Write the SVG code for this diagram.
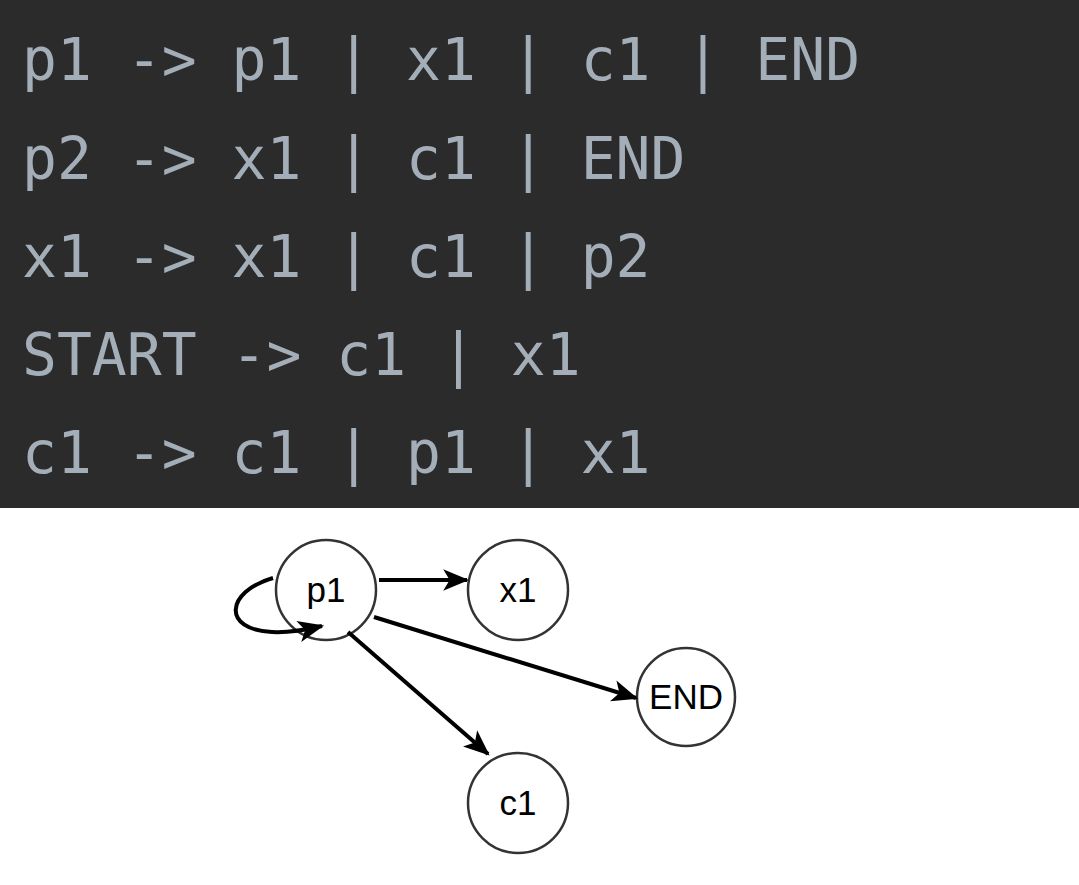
<svg xmlns="http://www.w3.org/2000/svg" width="1079" height="885" viewBox="0 0 1079 885">
<style>
.code{font-family:"DejaVu Sans Mono",monospace;font-size:58px;fill:#a4aeb8}
.n circle{fill:#fff;stroke:#333;stroke-width:2.5}
.n text{font-family:"Liberation Sans",Arial,sans-serif;font-size:35px;fill:#000;text-anchor:middle}
.e path{fill:none;stroke:#000;stroke-width:4}
</style>
<defs>
<marker id="ah" viewBox="0 0 12 10" refX="11" refY="5" markerWidth="26" markerHeight="22" orient="auto" markerUnits="userSpaceOnUse">
<path d="M0,0 L12,5 L0,10 L3,5 Z" fill="#000"/>
</marker>
</defs>
<rect x="0" y="0" width="1079" height="508" fill="#2b2b2b"/>
<g id="code">
<text class="code" x="22" y="80">p1 -&gt; p1 | x1 | c1 | END</text>
<text class="code" x="22" y="179">p2 -&gt; x1 | c1 | END</text>
<text class="code" x="22" y="277">x1 -&gt; x1 | c1 | p2</text>
<text class="code" x="22" y="375">START -&gt; c1 | x1</text>
<text class="code" x="22" y="473">c1 -&gt; c1 | p1 | x1</text>
</g>
<g id="p1" class="n"><circle cx="326" cy="590" r="50"/><text x="326" y="602">p1</text></g>
<g id="x1" class="n"><circle cx="518" cy="590" r="50"/><text x="518" y="602">x1</text></g>
<g id="END" class="n"><circle cx="686" cy="697" r="49"/><text x="686" y="709">END</text></g>
<g id="c1" class="n"><circle cx="518" cy="803" r="50"/><text x="518" y="815">c1</text></g>
<g id="connectors" class="e">
<path d="M273,578 C225,592 222,630 272,632 C290,633 305,630 322,626" marker-end="url(#ah)" stroke-width="5"/>
<path d="M379,580 L467,580" marker-end="url(#ah)"/>
<path d="M374,617 L636,698" marker-end="url(#ah)"/>
<path d="M348,632 L488,754" marker-end="url(#ah)"/>
</g>
</svg>
